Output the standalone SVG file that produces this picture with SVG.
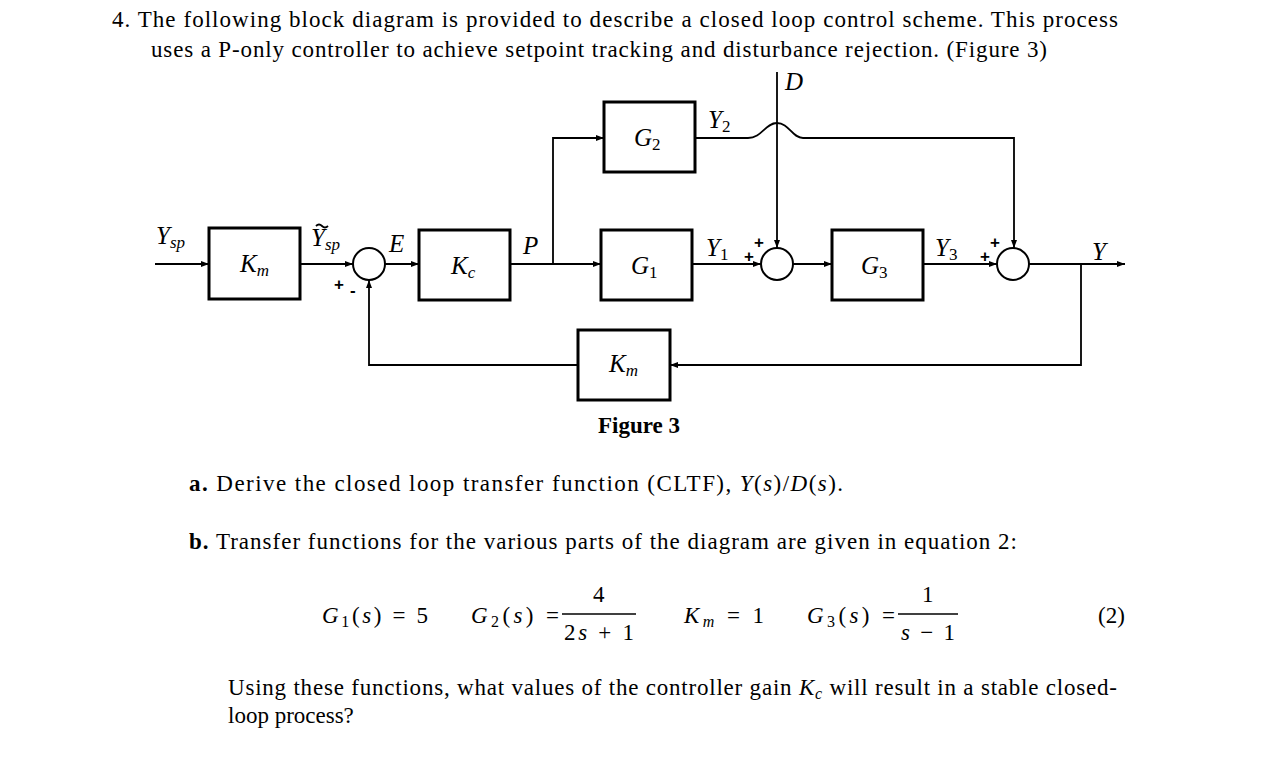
<svg xmlns="http://www.w3.org/2000/svg" width="1284" height="759" viewBox="0 0 1284 759">
<style>
.t{font-family:"Liberation Serif",serif;font-size:23px;fill:#000}
.m{font-family:"Liberation Serif",serif;font-style:italic;font-size:25px;fill:#000}
.s{font-family:"Liberation Serif",serif;font-style:italic;font-size:17px}
.n{font-style:normal;font-size:17px}
.b{fill:#fff;stroke:#000;stroke-width:3}
.c{fill:#fff;stroke:#000;stroke-width:2}
.l{fill:none;stroke:#000;stroke-width:1.8}
.p{font-family:"Liberation Sans",sans-serif;font-size:17px;font-weight:bold}
</style>
<defs><marker id="a" markerWidth="8" markerHeight="6" refX="8" refY="3" orient="auto" markerUnits="userSpaceOnUse"><path d="M0,0L8,3L0,6z"/></marker></defs>
<rect width="1284" height="759" fill="#fff"/>
<text class="t" x="112" y="27" textLength="1006">4.  The following block diagram is provided to describe a closed loop control scheme. This process</text>
<text class="t" x="151" y="57" textLength="896">uses a P-only controller to achieve setpoint tracking and disturbance rejection. (Figure 3)</text>
<g id="connectors">
<path class="l" d="M155,264H209" marker-end="url(#a)"/>
<path class="l" d="M300,264H353" marker-end="url(#a)"/>
<path class="l" d="M385,264H419" marker-end="url(#a)"/>
<path class="l" d="M510,264H601" marker-end="url(#a)"/>
<path class="l" d="M553,264V138H604" marker-end="url(#a)"/>
<path class="l" d="M692,264H761" marker-end="url(#a)"/>
<path class="l" d="M793,264H832" marker-end="url(#a)"/>
<path class="l" d="M923,264H997" marker-end="url(#a)"/>
<path class="l" d="M1029,264H1125" marker-end="url(#a)"/>
<path class="l" d="M777,72V248" marker-end="url(#a)"/>
<path class="l" d="M695,138H748C762,138 765,123 777,123C789,123 792,138 803,138H1014V248" marker-end="url(#a)"/>
<path class="l" d="M1081,264V365H670" marker-end="url(#a)"/>
<path class="l" d="M578,365H369V280" marker-end="url(#a)"/>
</g>
<g id="Km1"><rect class="b" x="209" y="228" width="91" height="71"/><text class="m" x="240" y="272">K<tspan class="s" dy="4">m</tspan></text></g>
<g id="sum1"><circle class="c" cx="369" cy="264" r="16"/><text class="p" x="334" y="290">+</text><text class="p" x="350" y="296">-</text></g>
<g id="Kc"><rect class="b" x="419" y="230" width="91" height="70"/><text class="m" x="451" y="274">K<tspan class="s" dy="4">c</tspan></text></g>
<g id="G1"><rect class="b" x="601" y="230" width="91" height="70"/><text class="m" x="631" y="274">G<tspan class="n" dy="4">1</tspan></text></g>
<g id="G2"><rect class="b" x="604" y="102" width="91" height="70"/><text class="m" x="634" y="146">G<tspan class="n" dy="4">2</tspan></text></g>
<g id="sum2"><circle class="c" cx="777" cy="264" r="16"/><text class="p" x="744" y="262">+</text><text class="p" x="754" y="248">+</text></g>
<g id="G3"><rect class="b" x="832" y="230" width="91" height="70"/><text class="m" x="861" y="274">G<tspan class="n" dy="4">3</tspan></text></g>
<g id="sum3"><circle class="c" cx="1013" cy="264" r="16"/><text class="p" x="980" y="262">+</text><text class="p" x="990" y="248">+</text></g>
<g id="Km2"><rect class="b" x="578" y="330" width="92" height="70"/><text class="m" x="609" y="372">K<tspan class="s" dy="4">m</tspan></text></g>
<g id="labels">
<text class="m" x="156" y="244">Y<tspan class="s" dy="4">sp</tspan></text>
<text class="m" x="311" y="246">Y<tspan class="s" dy="4">sp</tspan></text>
<path class="l" d="M316,226q3,-3 6,0t6,0" stroke-width="1.3"/>
<text class="m" x="389" y="252">E</text>
<text class="m" x="523" y="254">P</text>
<text class="m" x="708" y="128">Y<tspan class="n" dy="4">2</tspan></text>
<text class="m" x="706" y="256">Y<tspan class="n" dy="4">1</tspan></text>
<text class="m" x="935" y="256">Y<tspan class="n" dy="4">3</tspan></text>
<text class="m" x="1092" y="260">Y</text>
<text class="m" x="785" y="90">D</text>
</g>
<text class="t" x="598" y="433" font-weight="bold">Figure 3</text>
<text class="t" x="189" y="491" textLength="654"><tspan font-weight="bold">a.</tspan>  Derive the closed loop transfer function (CLTF), <tspan font-style="italic">Y</tspan>(<tspan font-style="italic">s</tspan>)/<tspan font-style="italic">D</tspan>(<tspan font-style="italic">s</tspan>).</text>
<text class="t" x="189" y="549" textLength="828"><tspan font-weight="bold">b.</tspan>  Transfer functions for the various parts of the diagram are given in equation 2:</text>
<g class="t">
<text class="t" x="322" y="623" textLength="106"><tspan font-style="italic">G</tspan><tspan font-size="16" dy="4">1</tspan><tspan dy="-4">(</tspan><tspan font-style="italic">s</tspan>) = 5</text>
<text class="t" x="471" y="623" textLength="88"><tspan font-style="italic">G</tspan><tspan font-size="16" dy="4">2</tspan><tspan dy="-4">(</tspan><tspan font-style="italic">s</tspan>) =</text>
<text class="t" x="593" y="602">4</text>
<line x1="562" y1="614" x2="636" y2="614" stroke="#000" stroke-width="1.5"/>
<text class="t" x="564" y="640" textLength="70">2<tspan font-style="italic">s</tspan> + 1</text>
<text class="t" x="684" y="623" textLength="80"><tspan font-style="italic">K</tspan><tspan font-style="italic" font-size="16" dy="4">m</tspan><tspan dy="-4"> = 1</tspan></text>
<text class="t" x="807" y="623" textLength="88"><tspan font-style="italic">G</tspan><tspan font-size="16" dy="4">3</tspan><tspan dy="-4">(</tspan><tspan font-style="italic">s</tspan>) =</text>
<text class="t" x="922" y="602">1</text>
<line x1="898" y1="614" x2="958" y2="614" stroke="#000" stroke-width="1.5"/>
<text class="t" x="901" y="640" textLength="54"><tspan font-style="italic">s</tspan> − 1</text>
<text class="t" x="1098" y="623">(2)</text>
</g>
<text class="t" x="228" y="695" textLength="889">Using these functions, what values of the controller gain <tspan font-style="italic">K</tspan><tspan font-style="italic" font-size="16" dy="4">c</tspan><tspan dy="-4"> will result in a stable closed-</tspan></text>
<text class="t" x="228" y="723">loop process?</text>
</svg>
